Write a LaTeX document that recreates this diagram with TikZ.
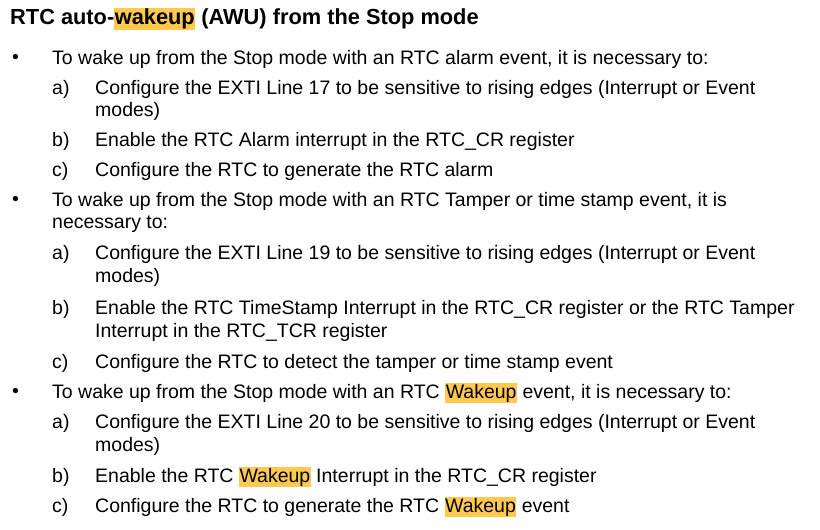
\documentclass[tikz,border=0pt]{standalone}
\usepackage{fontspec}
\setmainfont{Liberation Sans}
\definecolor{hl}{HTML}{FFC94D}
\newcommand{\hlw}[1]{{\setlength{\fboxsep}{0.5pt}\colorbox{hl}{\vphantom{Wp}#1}}}
\begin{document}
\begin{tikzpicture}[x=1pt,y=1pt,
  txt/.style={anchor=west,inner sep=0pt,font=\fontsize{19.5}{22}\selectfont},
  ttl/.style={anchor=west,inner sep=0pt,font=\fontsize{21.8}{24}\selectfont\bfseries}]
\useasboundingbox[fill=white] (0,0) rectangle (820,530);
\newcommand{\Y}[1]{530-#1}
\node[ttl] (t) at (10,{\Y{19}}) {RTC auto-\hlw{wakeup} (AWU) from the Stop mode};
% bullet 1
\node[txt] (b1) at (12,{\Y{59}}) {•};
\node[txt] (l1) at (52,{\Y{59}}) {To wake up from the Stop mode with an RTC alarm event, it is necessary to:};
\node[txt] (a1) at (52,{\Y{89}}) {a)};
\node[txt] (a1t) at (95,{\Y{89}}) {Configure the EXTI Line 17 to be sensitive to rising edges (Interrupt or Event};
\node[txt] (a1u) at (95,{\Y{111}}) {modes)};
\node[txt] (bb1) at (52,{\Y{141}}) {b)};
\node[txt] (bb1t) at (95,{\Y{141}}) {Enable the RTC Alarm interrupt in the RTC\_CR register};
\node[txt] (c1) at (52,{\Y{171}}) {c)};
\node[txt] (c1t) at (95,{\Y{171}}) {Configure the RTC to generate the RTC alarm};
% bullet 2
\node[txt] (b2) at (12,{\Y{201}}) {•};
\node[txt] (l2) at (52,{\Y{201}}) {To wake up from the Stop mode with an RTC Tamper or time stamp event, it is};
\node[txt] (l2b) at (52,{\Y{224}}) {necessary to:};
\node[txt] (a2) at (52,{\Y{254}}) {a)};
\node[txt] (a2t) at (95,{\Y{254}}) {Configure the EXTI Line 19 to be sensitive to rising edges (Interrupt or Event};
\node[txt] (a2u) at (95,{\Y{277}}) {modes)};
\node[txt] (bb2) at (52,{\Y{309}}) {b)};
\node[txt] (bb2t) at (95,{\Y{309}}) {Enable the RTC TimeStamp Interrupt in the RTC\_CR register or the RTC Tamper};
\node[txt] (bb2u) at (95,{\Y{332}}) {Interrupt in the RTC\_TCR register};
\node[txt] (c2) at (52,{\Y{363}}) {c)};
\node[txt] (c2t) at (95,{\Y{363}}) {Configure the RTC to detect the tamper or time stamp event};
% bullet 3
\node[txt] (b3) at (12,{\Y{393}}) {•};
\node[txt] (l3) at (52,{\Y{393}}) {To wake up from the Stop mode with an RTC \hlw{Wakeup} event, it is necessary to:};
\node[txt] (a3) at (52,{\Y{423}}) {a)};
\node[txt] (a3t) at (95,{\Y{423}}) {Configure the EXTI Line 20 to be sensitive to rising edges (Interrupt or Event};
\node[txt] (a3u) at (95,{\Y{446}}) {modes)};
\node[txt] (bb3) at (52,{\Y{477}}) {b)};
\node[txt] (bb3t) at (95,{\Y{477}}) {Enable the RTC \hlw{Wakeup} Interrupt in the RTC\_CR register};
\node[txt] (c3) at (52,{\Y{507}}) {c)};
\node[txt] (c3t) at (95,{\Y{507}}) {Configure the RTC to generate the RTC \hlw{Wakeup} event};
\end{tikzpicture}
\end{document}
